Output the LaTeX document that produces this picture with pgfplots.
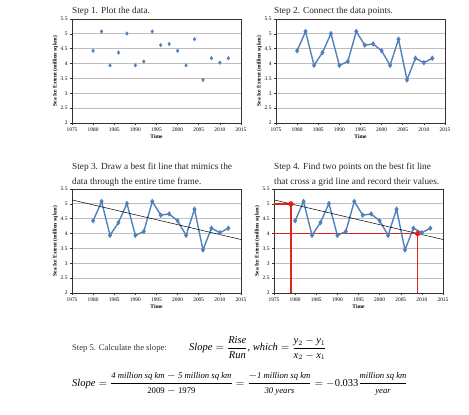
\documentclass[border=0pt]{standalone}
\usepackage{amsmath}
\usepackage{pgfplots}
\pgfplotsset{compat=1.18}
\usepackage{fontspec}
\setmainfont{Liberation Serif}
\definecolor{xlblue}{RGB}{79,129,189}
\definecolor{gridg}{RGB}{190,190,190}
\definecolor{redpt}{RGB}{235,25,25}
\definecolor{redln}{RGB}{235,90,60}
\definecolor{redh}{RGB}{220,40,25}
\pgfplotstableread{
year ext
1980 4.43
1982 5.08
1984 3.94
1986 4.37
1988 5.01
1990 3.94
1992 4.07
1994 5.08
1996 4.62
1998 4.66
2000 4.43
2002 3.94
2004 4.82
2006 3.45
2008 4.18
2010 4.03
2012 4.18
}\seaice
\pgfplotstableread{
x y
1975 4
2009 4
2009 2
}\lowL
\pgfplotstableread{
x y
1975 5
1979 5
1979 2
}\highL
\pgfplotsset{
  seastyle/.style={
    scale only axis, width=169pt, height=104pt,
    anchor=south west,
    xmin=1975, xmax=2015, ymin=2, ymax=5.5,
    xtick={1975,1980,...,2015}, ytick={2,2.5,...,5.5},
    ymajorgrids, major grid style={gridg, line width=0.8pt},
    axis line style={black!80, line width=0.6pt},
    tick style={black!80, line width=0.5pt},
    tick align=outside, major tick length=2pt,
    xtick pos=bottom, ytick pos=left,
    /pgf/number format/assume math mode=true,
    /pgf/number format/1000 sep={},
    ticklabel style={font=\fontsize{5.4}{6}\selectfont, black},
    xticklabel style={yshift=1pt},
    yticklabel style={xshift=1pt},
    xlabel={\textbf{Time}},
    ylabel={\textbf{Sea Ice Extent (million sq km)}},
    label style={font=\fontsize{5.5}{6}\selectfont},
    xlabel style={yshift=3pt},
    ylabel style={yshift=-4pt},
    clip=false,
  },
  dataline/.style={xlblue, line width=1.4pt, mark=diamond*, mark size=1.6pt, mark options={solid, fill=xlblue, draw=xlblue}},
  datapts/.style={only marks, mark=diamond*, mark size=1.8pt, mark options={fill=xlblue, draw=xlblue}},
}
\newcommand{\sm}[1]{\textit{\fontsize{8.7}{10}\selectfont #1}}
\newcommand{\su}[1]{\text{\fontsize{8.7}{10}\selectfont #1}}
\begin{document}
\begin{tikzpicture}
\useasboundingbox (0pt,0pt) rectangle (469pt,415pt);
% titles
\tikzset{ttl/.style={anchor=base west, inner sep=0pt, font=\fontsize{9.3}{11}\selectfont, black!85}}
\node[ttl] at (72pt,401pt) {Step 1. Plot the data.};
\node[ttl] at (274pt,401pt) {Step 2. Connect the data points.};
\node[ttl] at (72pt,245pt) {Step 3. Draw a best fit line that mimics the};
\node[ttl] at (72pt,230.5pt) {data through the entire time frame.};
\node[ttl] at (274pt,245pt) {Step 4. Find two points on the best fit line};
\node[ttl] at (274pt,230.5pt) {that cross a grid line and record their values.};

\begin{axis}[seastyle, at={(72pt,292pt)}]
\addplot[datapts] table[x=year,y=ext] {\seaice};
\end{axis}

\begin{axis}[seastyle, at={(276pt,292pt)}]
\addplot[dataline] table[x=year,y=ext] {\seaice};
\end{axis}

\begin{axis}[seastyle, at={(72pt,122pt)}]
\addplot[dataline] table[x=year,y=ext] {\seaice};
\addplot[black, line width=0.5pt] coordinates {(1975,5.1333) (2015,3.8)};
\end{axis}

\begin{axis}[seastyle, at={(274pt,122pt)}]
\addplot[color=redh, line width=1.6pt, mark=none] table[x=x,y=y] {\lowL};
\addplot[color=redh, line width=1.6pt, mark=none] table[x=x,y=y] {\highL};
\addplot[dataline] table[x=year,y=ext] {\seaice};
\addplot[black, line width=0.5pt] coordinates {(1975,5.1333) (2015,3.8)};
\addplot[only marks, mark=*, mark size=2.4pt, mark options={fill=redpt, draw=redpt}] coordinates {(1979,5) (2009,4)};
\end{axis}

% step 5
\node[anchor=west, inner sep=0pt, font=\fontsize{8.6}{10}\selectfont, black!80] at (72pt,67pt) {Step 5. Calculate the slope:};
\node[anchor=west, inner sep=0pt, font=\fontsize{10.5}{12}\selectfont] at (189pt,67pt)
  {$\textit{Slope} = \dfrac{\textit{Rise}}{\textit{Run}}\textit{, which} = \dfrac{\textit{y}_2 - \textit{y}_1}{\textit{x}_2 - \textit{x}_1}$};
\node[anchor=west, inner sep=0pt, font=\fontsize{10.5}{12}\selectfont] at (72pt,31pt)
  {$\textit{Slope} = \dfrac{\sm{4 million sq km} - \sm{5 million sq km}}{\su{2009} - \su{1979}} = \dfrac{-\sm{1 million sq km}}{\sm{30 years}} = -\text{0.033}\dfrac{\sm{million sq km}}{\sm{year}}$};
\end{tikzpicture}
\end{document}
